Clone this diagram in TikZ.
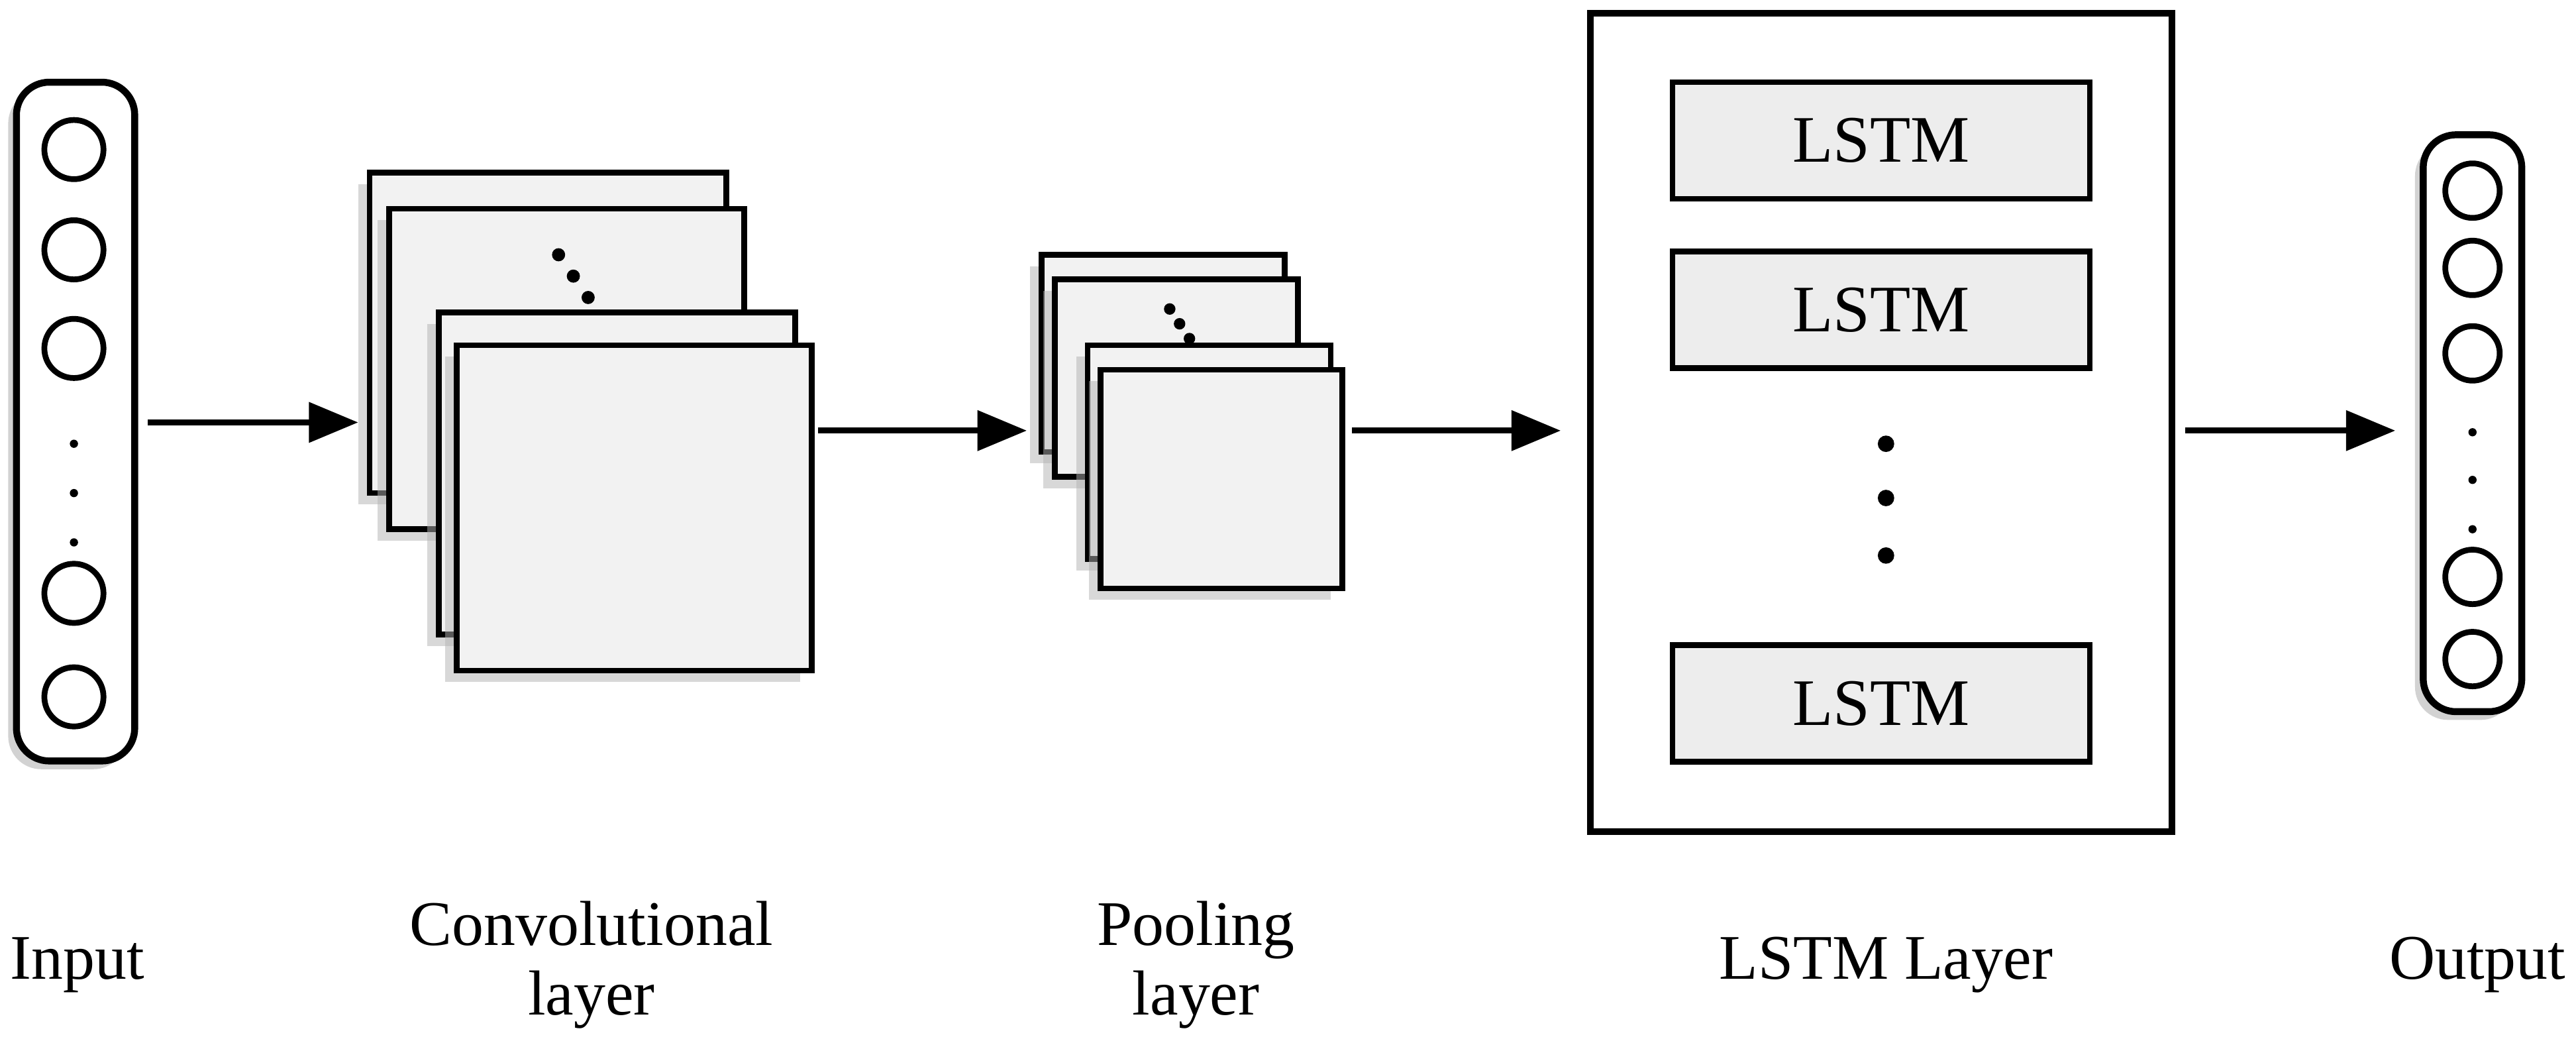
\documentclass[tikz,border=0pt]{standalone}
\usepackage{fontspec}
\setmainfont{Liberation Serif}
\usetikzlibrary{shadows,arrows.meta}
\begin{document}
\begin{tikzpicture}[x=0.1mm,y=-0.1mm,
  col/.style={draw,line width=1.2pt,rounded corners=2mm,fill=white,drop shadow={shadow xshift=-0.5mm,shadow yshift=-0.5mm,fill=gray!70}},
  neu/.style={circle,draw,line width=1pt,fill=white},
  fmap/.style={draw,line width=1pt,fill=black!5,drop shadow={shadow xshift=-0.7mm,shadow yshift=-0.7mm,fill=gray!60}},
  lstm/.style={draw,line width=1pt,fill=black!7,minimum width=25.4mm,minimum height=7.1mm,font=\fontsize{11.5}{13}\selectfont,inner sep=0pt},
  arr/.style={-{Triangle[length=3mm,width=2.4mm]},line width=1pt},
  lbl/.style={font=\fontsize{11}{13}\selectfont,align=center},
  dot/.style={circle,fill=black,inner sep=0pt,minimum size=0.5mm}]
\useasboundingbox (0,0) rectangle (1568,637);
% input
\node[col,minimum width=7.2mm,minimum height=41.3mm] (in) at (46,256.5) {};
\foreach \y [count=\i] in {91,152,212,361,424} \node[neu,minimum size=3.6mm] (i\i) at (45,\y) {};
\foreach \y in {270,300,330} \node[dot] at (45,\y) {};
% conv
\node[fmap,minimum width=21.7mm,minimum height=19.5mm] (c1) at (333.5,202.5) {};
\node[fmap,minimum width=21.6mm,minimum height=19.5mm] (c2) at (345,224.5) {};
\node[dot,minimum size=0.8mm] at (340,155) {};
\node[dot,minimum size=0.8mm] at (349,168) {};
\node[dot,minimum size=0.8mm] at (358,181) {};
\node[fmap,minimum width=21.7mm,minimum height=19.6mm] (c3) at (375.5,288) {};
\node[fmap,minimum width=21.6mm,minimum height=19.8mm] (c4) at (386,309) {};
% pool
\node[fmap,minimum width=14.8mm,minimum height=12mm] (p1) at (708,215) {};
\node[fmap,minimum width=14.8mm,minimum height=12mm] (p2) at (716,230) {};
\node[dot,minimum size=0.7mm] at (712,188) {};
\node[dot,minimum size=0.7mm] at (718,197) {};
\node[dot,minimum size=0.7mm] at (724,206) {};
\node[fmap,minimum width=14.8mm,minimum height=13mm] (p3) at (736,275) {};
\node[fmap,minimum width=14.7mm,minimum height=13.3mm] (p4) at (743.5,291.5) {};
% lstm layer
\node[draw,line width=1.2pt,fill=white,minimum width=35.4mm,minimum height=49.8mm] (L) at (1145,257) {};
\node[lstm] (l1) at (1145,85.5) {LSTM};
\node[lstm] (l2) at (1145,188.5) {LSTM};
\node[lstm] (l3) at (1145,428) {LSTM};
\foreach \y in {270,303,338} \node[circle,fill=black,inner sep=0pt,minimum size=1mm] at (1148,\y) {};
% output
\node[col,minimum width=6mm,minimum height=35.1mm] (out) at (1505,257.5) {};
\foreach \y [count=\i] in {116,163,215,351,401} \node[neu,minimum size=2.8mm] (o\i) at (1505,\y) {};
\foreach \y in {263,292,322} \node[dot] at (1505,\y) {};
% arrows
\coordinate (a1) at (90,257); \coordinate (b1) at (218,257);
\coordinate (a2) at (498,262); \coordinate (b2) at (625,262);
\coordinate (a3) at (823,262); \coordinate (b3) at (950,262);
\coordinate (a4) at (1330,262); \coordinate (b4) at (1458,262);
\draw[arr] (a1) -- (b1);
\draw[arr] (a2) -- (b2);
\draw[arr] (a3) -- (b3);
\draw[arr] (a4) -- (b4);
% labels
\node[lbl] at (47,587) {Input};
\node[lbl] at (360,587) {Convolutional\\[-1pt]layer};
\node[lbl] at (728,587) {Pooling\\[-1pt]layer};
\node[lbl] at (1148,587) {LSTM Layer};
\node[lbl] at (1508,587) {Output};
\end{tikzpicture}
\end{document}
